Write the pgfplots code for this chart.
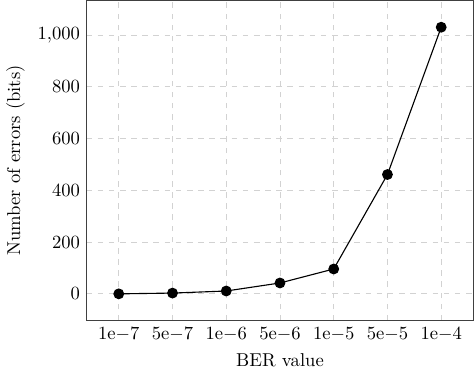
\documentclass[border=0pt]{standalone}
\usepackage{pgfplots}
\pgfplotsset{compat=1.18}
\begin{document}
\begin{tikzpicture}
\begin{axis}[
  scale only axis,
  width=208pt, height=172pt,
  xtick=data,
  xticklabels={1e$-$7,5e$-$7,1e$-$6,5e$-$6,1e$-$5,5e$-$5,1e$-$4},
  xlabel={BER value},
  ylabel={Number of errors (bits)},
  grid=major,
  major grid style={dash pattern=on 3pt off 3pt, gray!35},
  tick style={draw=none},
  axis line style={black!75, semithick},
]
\addplot[black, semithick, mark=*, mark size=2.6pt] coordinates {
(0,0) (1,3) (2,11) (3,42) (4,96) (5,461) (6,1030)
};
\end{axis}
\end{tikzpicture}
\end{document}
